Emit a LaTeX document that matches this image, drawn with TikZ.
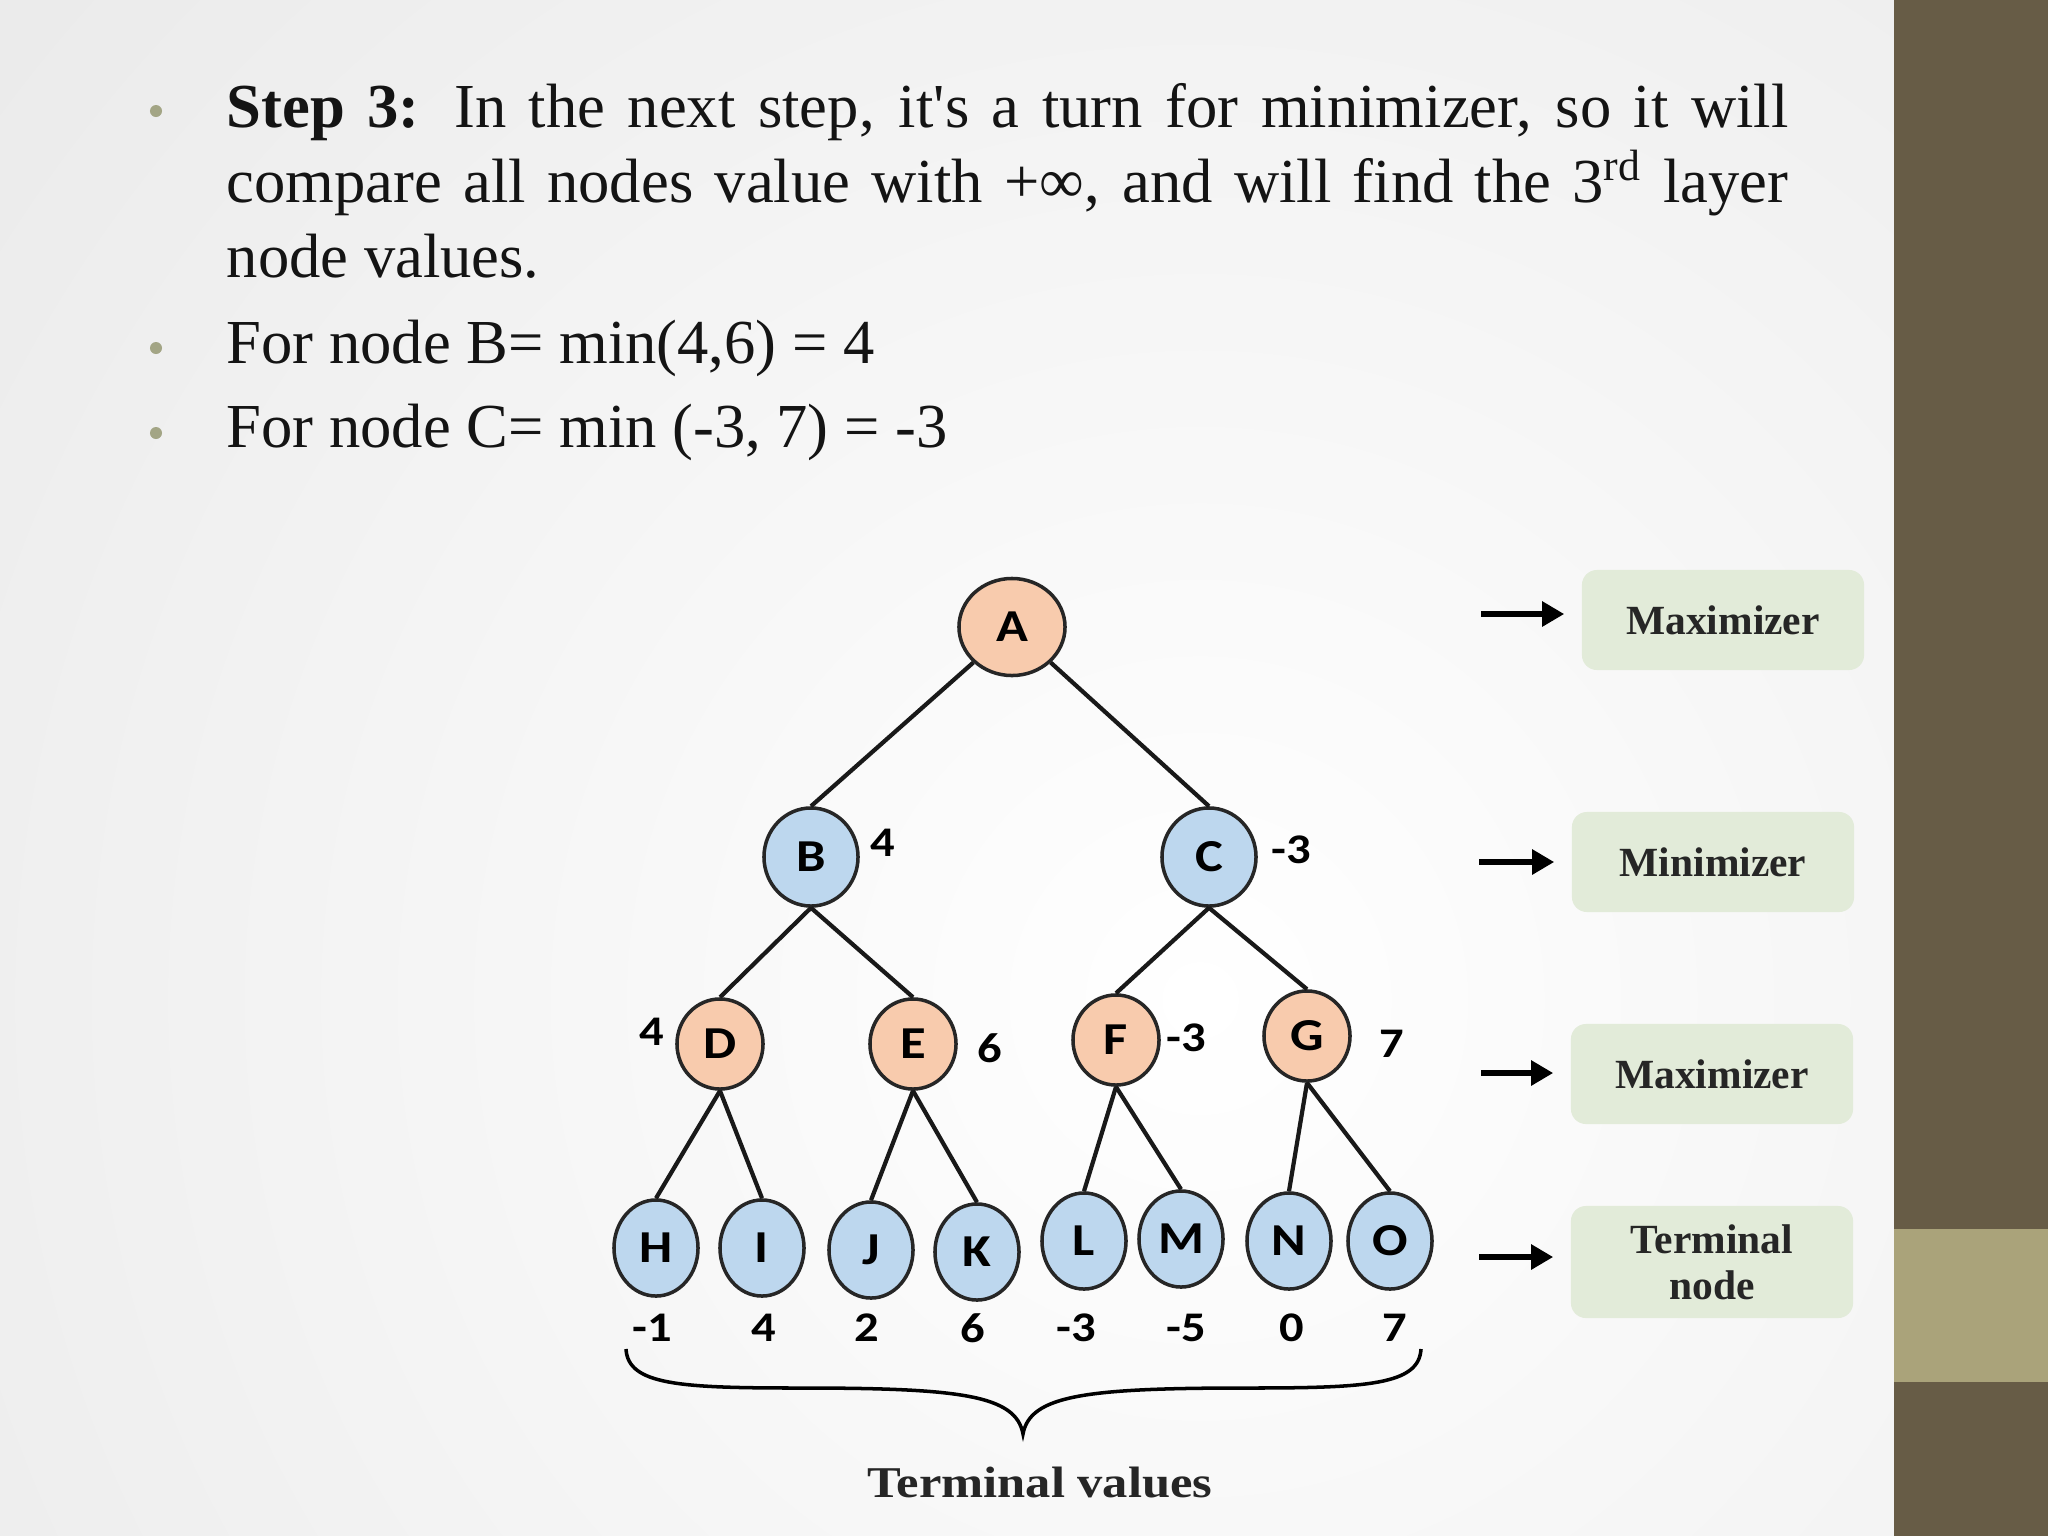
\documentclass[tikz,border=0pt]{standalone}
\usepackage{fontspec}
\setmainfont{Liberation Serif}
\newfontfamily\treefont[FakeStretch=1.15]{Carlito}
\usetikzlibrary{shapes.geometric,arrows.meta}

\definecolor{maxfill}{RGB}{248,203,173}
\definecolor{minfill}{RGB}{189,215,238}
\definecolor{tagfill}{RGB}{226,235,217}
\definecolor{barbrown}{RGB}{103,92,70}
\definecolor{barkhaki}{RGB}{170,163,122}
\definecolor{dotgreen}{RGB}{163,165,133}

\tikzset{
  gnode/.style = {ellipse, draw = black!85, line width = 1pt, inner sep = 0pt,
                  font = \treefont\bfseries\fontsize{13}{13}\selectfont},
  maxnode/.style = {gnode, fill = maxfill},
  minnode/.style = {gnode, fill = minfill},
  rootsize/.style = {minimum width = 1.06cm, minimum height = 0.97cm},
  midsize/.style = {minimum width = 0.94cm, minimum height = 0.98cm},
  lowsize/.style = {minimum width = 0.86cm, minimum height = 0.90cm},
  leafsize/.style = {minimum width = 0.84cm, minimum height = 0.96cm},
  val/.style = {inner sep = 0pt, font = \treefont\bfseries\fontsize{12}{12}\selectfont},
  link/.style = {line width = 1.2pt, black!90},
  tag/.style = {rounded corners = 0.15cm, fill = tagfill, minimum width = 2.82cm,
                minimum height = 1cm, align = center, text = black!85,
                font = \bfseries\fontsize{11.8}{13}\selectfont},
  tagarrow/.style = {line width = 1.7pt, shorten > = 0.17cm,
                     -{Triangle[length = 0.22cm, width = 0.24cm]}},
  bullet/.style = {circle, fill = dotgreen, inner sep = 0pt, minimum size = 0.12cm},
  slidetext/.style = {anchor = north west, inner sep = 0pt, text width = 15.61cm,
                      align = justify, text = black!92,
                      font = \fontsize{17.8}{21.3}\selectfont}
}

\begin{document}
\begin{tikzpicture}[x = 0.01cm, y = -0.01cm]
\useasboundingbox (0,0) rectangle (2048,1536);

% slide background
\begin{scope}
  \clip (0,0) rectangle (1894,1536);
  \shade[inner color = white, outer color = black!16] (-1920,-2120) rectangle (4320,4120);
\end{scope}
\fill[barbrown] (1894,0) rectangle (2048,1536);
\fill[barkhaki] (1894,1229) rectangle (2048,1382);

% bullets
\node[bullet] (d1) at (156,111) {};
\node[bullet] (d2) at (156,348) {};
\node[bullet] (d3) at (156,433) {};
\node[slidetext] (s1) at (226,83) {\textbf{Step 3:} In the next step, it\textquotesingle s a turn for minimizer, so it will\linebreak
  compare all nodes value with +∞, and will find the 3\textsuperscript{rd} layer\linebreak node values.};
\node[slidetext] (s2) at (226,319) {For node B= min(4,6) = 4};
\node[slidetext] (s3) at (226,403) {For node C= min (-3, 7) = -3};

% game tree
\node[maxnode, rootsize] (A) at (1012,627) {A};
\node[minnode, midsize] (B) at (811,857) {B};
\node[minnode, midsize] (C) at (1209,857) {C};
\node[maxnode, lowsize] (D) at (720,1044) {D};
\node[maxnode, lowsize] (E) at (913,1044) {E};
\node[maxnode, lowsize] (F) at (1116,1040) {F};
\node[maxnode, lowsize] (G) at (1307,1036) {G};
\foreach \n/\x/\y in {H/656/1248, I/762/1248, J/871/1250, K/977/1252,
                      L/1084/1241, M/1181/1239, N/1289/1241, O/1390/1241}
  \node[minnode, leafsize] (\n) at (\x,\y) {\n};

\draw[link] (A.south west) -- (B.north);
\draw[link] (A.south east) -- (C.north);
\foreach \p/\c in {B/D, B/E, C/F, C/G, D/H, D/I, E/J, E/K, F/L, F/M, G/N, G/O}
  \draw[link] (\p.south) -- (\c.north);

% backed-up values
\node[val] (vB) at (883,843) {4};
\node[val] (vC) at (1291,850) {-3};
\node[val] (vD) at (652,1032) {4};
\node[val] (vE) at (990,1048) {6};
\node[val] (vF) at (1186,1038) {-3};
\node[val] (vG) at (1392,1044) {7};
\foreach \n/\x/\v in {H/652/-1, I/764/4, J/867/2, K/973/6,
                      L/1076/-3, M/1186/-5, N/1292/0, O/1395/7}
  \node[val] (v\n) at (\x,1328) {\v};

% brace under the leaves
\coordinate (brL) at (626,1349);
\coordinate (brR) at (1421,1349);
\coordinate (brT) at (1023,1434);
\draw[line width = 1pt] (brL) .. controls (628,1385) and (680,1388) .. (800,1388)
  .. controls (960,1388) and (1016,1395) .. (brT)
  .. controls (1030,1395) and (1087,1388) .. (1247,1388)
  .. controls (1367,1388) and (1419,1385) .. (brR);
\node[font = \bfseries\fontsize{12.5}{12.5}\selectfont, text = black!85] (tv) at (1040,1482)
  {\scalebox{1.15}[1]{Terminal values}};

% level tags
\node[tag] (t1) at (1723,620) {Maximizer};
\node[tag] (t2) at (1713,862) {Minimizer};
\node[tag] (t3) at (1712,1074) {Maximizer};
\node[tag, minimum height = 1.12cm] (t4) at (1712,1262) {Terminal\\node};
\coordinate (a1) at (1481,614);
\coordinate (a2) at (1479,862);
\coordinate (a3) at (1481,1073);
\coordinate (a4) at (1479,1257);
\foreach \i in {1,...,4}
  \draw[tagarrow] (a\i) -- (a\i -| t\i.west);
\end{tikzpicture}
\end{document}
